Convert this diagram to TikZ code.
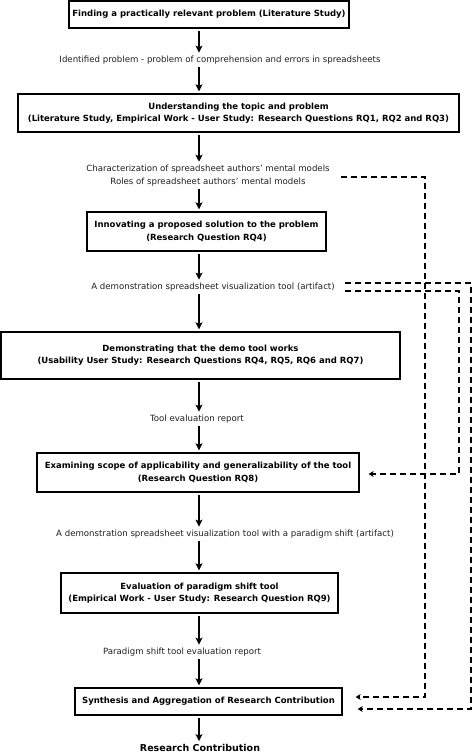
\documentclass[tikz,border=0pt]{standalone}
\usepackage{fontspec}
\setmainfont{DejaVu Sans}
\usetikzlibrary{arrows.meta}
\definecolor{lblc}{HTML}{1E1E1E}
\begin{document}
\begin{tikzpicture}[x=1pt,y=-1pt,
 box/.style={draw,line width=1.3pt,align=center,font=\fontsize{8.5}{12.3}\selectfont\bfseries,inner sep=0pt},
 lbl/.style={align=center,font=\fontsize{8.6}{12.8}\selectfont,text=lblc,inner sep=1pt},
 arr/.style={line width=1.2pt,-{Stealth[length=7pt,width=7pt,inset=1.5pt]},shorten <=2pt,shorten >=2pt},
 dsh/.style={line width=1.2pt,dash pattern=on 6pt off 4pt,-{Stealth[length=5pt,width=6pt,inset=1.5pt]}}
]
\useasboundingbox (0,0) rectangle (474,755);

\node[box,minimum width=280pt,minimum height=27pt] (b1) at (209,14.5) {Finding a practically relevant problem (Literature Study)};
\node[lbl] (t1) at (220,60) {Identified problem - problem of comprehension and errors in spreadsheets};
\node[box,minimum width=441pt,minimum height=38pt] (b2) at (238.5,113) {Understanding the topic and problem\\(Literature Study, Empirical Work - User Study: Research Questions RQ1, RQ2 and RQ3)};
\node[lbl] (t2) at (208,175.5) {Characterization of spreadsheet authors' mental models\\Roles of spreadsheet authors' mental models};
\node[box,minimum width=239pt,minimum height=39pt] (b3) at (206.5,231.5) {Innovating a proposed solution to the problem\\(Research Question RQ4)};
\node[lbl] (t3) at (213,287) {A demonstration spreadsheet visualization tool (artifact)};
\node[box,minimum width=399pt,minimum height=47pt] (b4) at (200.5,355.5) {Demonstrating that the demo tool works\\(Usability User Study: Research Questions RQ4, RQ5, RQ6 and RQ7)};
\node[lbl] (t4) at (197,419) {Tool evaluation report};
\node[box,minimum width=322pt,minimum height=39pt] (b5) at (198,472.5) {Examining scope of applicability and generalizability of the tool\\(Research Question RQ8)};
\node[lbl] (t5) at (225,534) {A demonstration spreadsheet visualization tool with a paradigm shift (artifact)};
\node[box,minimum width=277pt,minimum height=40pt] (b6) at (199.5,593) {Evaluation of paradigm shift tool\\(Empirical Work - User Study: Research Question RQ9)};
\node[lbl] (t6) at (182,652) {Paradigm shift tool evaluation report};
\node[box,minimum width=267pt,minimum height=27pt] (b7) at (208.5,701.5) {Synthesis and Aggregation of Research Contribution};
\node[lbl,text=black,font=\fontsize{9.5}{12}\selectfont\bfseries] (t7) at (200,748) {Research Contribution};

\coordinate (ax) at (199,0);
\draw[arr] (b1.south -| ax) -- (t1.north -| ax);
\draw[arr] (t1.south -| ax) -- (b2.north -| ax);
\draw[arr] (b2.south -| ax) -- (t2.north -| ax);
\draw[arr] (t2.south -| ax) -- (b3.north -| ax);
\draw[arr] (b3.south -| ax) -- (t3.north -| ax);
\draw[arr] (t3.south -| ax) -- (b4.north -| ax);
\draw[arr] (b4.south -| ax) -- (t4.north -| ax);
\draw[arr] (t4.south -| ax) -- (b5.north -| ax);
\draw[arr] (b5.south -| ax) -- (t5.north -| ax);
\draw[arr] (t5.south -| ax) -- (b6.north -| ax);
\draw[arr] (b6.south -| ax) -- (t6.north -| ax);
\draw[arr] (t6.south -| ax) -- (b7.north -| ax);
\draw[arr] (b7.south -| ax) -- (t7.north -| ax);

% dashed feedback lines
\coordinate (s1) at ([xshift=10pt,yshift=-1.5pt]t2.east);
\coordinate (e1) at ([xshift=13pt,yshift=4.5pt]b7.east);
\coordinate (s2) at ([xshift=9pt,yshift=4pt]t3.east);
\coordinate (e2) at ([xshift=15pt,yshift=-7.5pt]b7.east);
\coordinate (s3) at ([xshift=9pt,yshift=-4pt]t3.east);
\coordinate (e3) at ([xshift=9pt,yshift=-1.5pt]b5.east);
\coordinate (v1) at (425,0);
\coordinate (v2) at (471,0);
\coordinate (v3) at (459,0);
\draw[dsh] (s1) -- (s1 -| v1) -- (e1 -| v1) -- (e1);
\draw[dsh] (s2) -- (s2 -| v2) -- (e2 -| v2) -- (e2);
\draw[dsh] (s3) -- (s3 -| v3) -- (e3 -| v3) -- (e3);
\end{tikzpicture}
\end{document}
